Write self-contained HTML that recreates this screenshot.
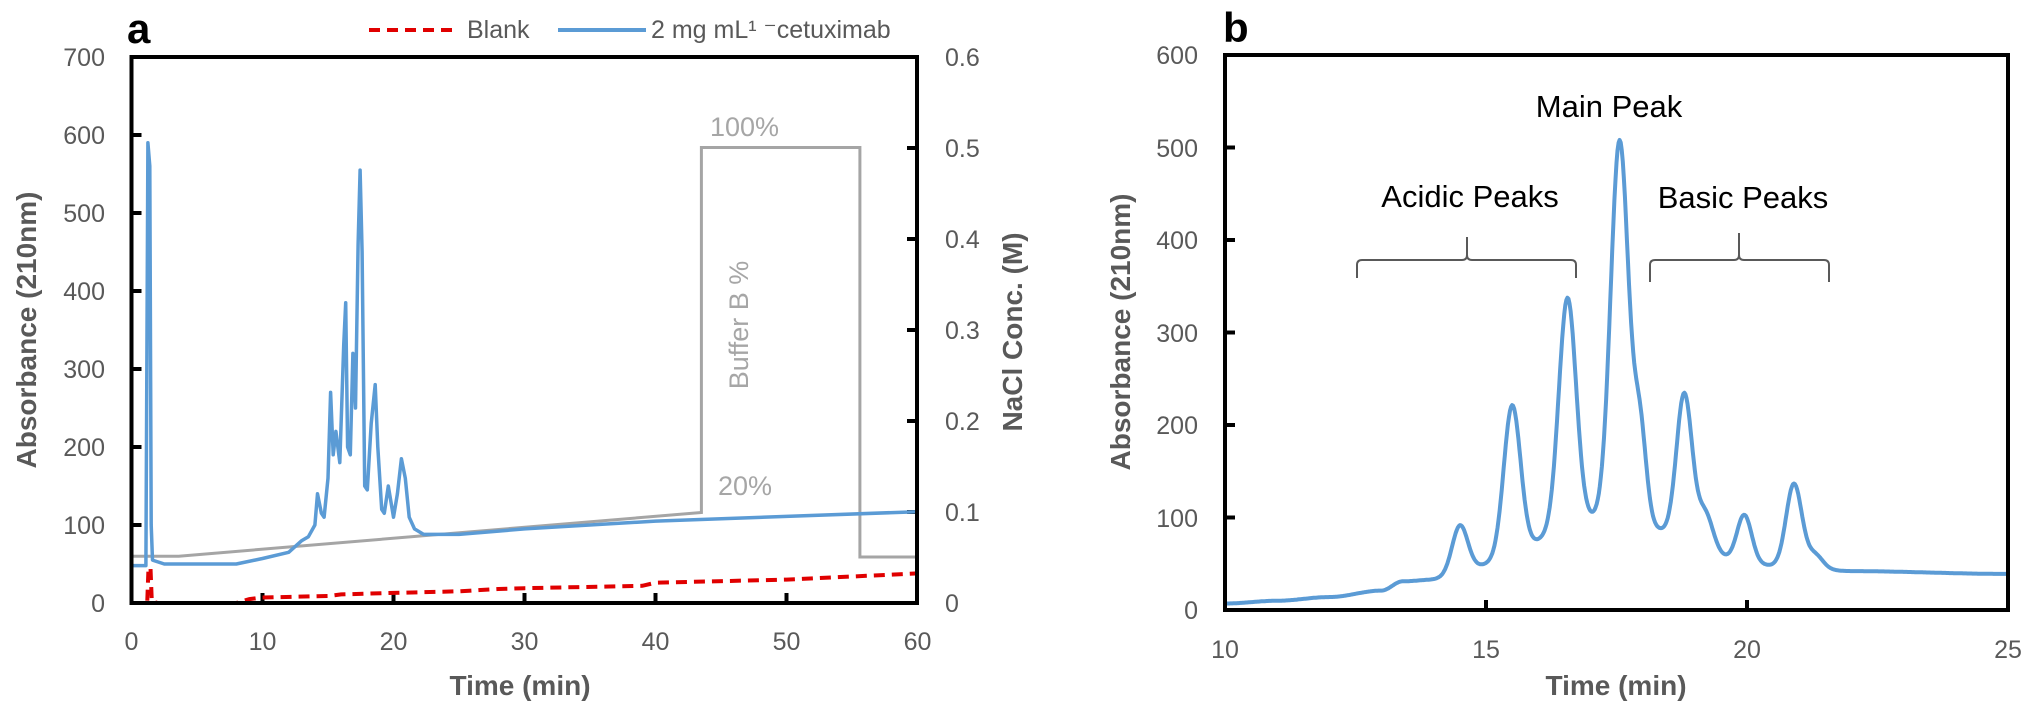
<!DOCTYPE html>
<html><head><meta charset="utf-8"><style>
html,body{margin:0;padding:0;background:#fff;}
svg{display:block;}
text{font-family:"Liberation Sans",Arial,sans-serif;}
</style></head><body>
<svg id="s" width="2032" height="711" viewBox="0 0 2032 711" xmlns="http://www.w3.org/2000/svg">
<rect width="2032" height="711" fill="#fff"/>
<!-- Panel a -->
<g id="pa"></g>
<rect x="131.5" y="57" width="785.5" height="546" fill="none" stroke="#000" stroke-width="4"/>
<g fill="#595959" font-size="25" text-anchor="end">
<text x="105" y="66">700</text><text x="105" y="144">600</text><text x="105" y="222">500</text>
<text x="105" y="300">400</text><text x="105" y="378">300</text><text x="105" y="456">200</text>
<text x="105" y="534">100</text><text x="105" y="612">0</text>
</g>
<g fill="#595959" font-size="25" text-anchor="start">
<text x="945" y="66">0.6</text><text x="945" y="157">0.5</text><text x="945" y="248">0.4</text>
<text x="945" y="339">0.3</text><text x="945" y="430">0.2</text><text x="945" y="521">0.1</text>
<text x="945" y="612">0</text>
</g>
<g fill="#595959" font-size="25" text-anchor="middle">
<text x="131.5" y="650">0</text><text x="262.5" y="650">10</text><text x="393.5" y="650">20</text>
<text x="524.5" y="650">30</text><text x="655.5" y="650">40</text><text x="786.5" y="650">50</text>
<text x="917.5" y="650">60</text>
</g>
<text x="520" y="695" fill="#595959" font-size="28" font-weight="bold" text-anchor="middle">Time (min)</text>
<text transform="translate(36,330) rotate(-90)" fill="#595959" font-size="28" font-weight="bold" text-anchor="middle">Absorbance (210nm)</text>
<text transform="translate(1022,332) rotate(-90)" fill="#595959" font-size="28" font-weight="bold" text-anchor="middle">NaCl Conc. (M)</text>
<text x="127" y="43" font-size="42" font-weight="bold" fill="#000">a</text>
<line x1="369" y1="30" x2="459" y2="30" stroke="#E00000" stroke-width="4" stroke-dasharray="11,7"/>
<text x="467" y="38" fill="#595959" font-size="25">Blank</text>
<line x1="558" y1="30" x2="646" y2="30" stroke="#5B9BD5" stroke-width="4"/>
<text x="651" y="38" fill="#595959" font-size="25">2 mg mL¹ ⁻cetuximab</text>
<text x="710" y="136" fill="#A6A6A6" font-size="27">100%</text>
<text x="718" y="495" fill="#A6A6A6" font-size="27">20%</text>
<text transform="translate(748,325) rotate(-90)" fill="#A6A6A6" font-size="27" text-anchor="middle">Buffer B %</text>

<!-- Panel b -->
<g id="pb"></g>
<rect x="1225" y="55" width="783" height="555" fill="none" stroke="#000" stroke-width="4"/>
<g fill="#595959" font-size="25" text-anchor="end">
<text x="1198" y="64">600</text><text x="1198" y="157">500</text><text x="1198" y="249">400</text>
<text x="1198" y="342">300</text><text x="1198" y="434">200</text><text x="1198" y="527">100</text>
<text x="1198" y="619">0</text>
</g>
<g fill="#595959" font-size="25" text-anchor="middle">
<text x="1225" y="658">10</text><text x="1486" y="658">15</text><text x="1747" y="658">20</text><text x="2008" y="658">25</text>
</g>
<text x="1616" y="695" fill="#595959" font-size="28" font-weight="bold" text-anchor="middle">Time (min)</text>
<text transform="translate(1130,332) rotate(-90)" fill="#595959" font-size="28" font-weight="bold" text-anchor="middle">Absorbance (210nm)</text>
<text x="1223" y="42" font-size="42" font-weight="bold" fill="#000">b</text>
<text x="1609" y="117" font-size="31" fill="#000" text-anchor="middle">Main Peak</text>
<text x="1470" y="207" font-size="31" fill="#000" text-anchor="middle">Acidic Peaks</text>
<text x="1743" y="208" font-size="31" fill="#000" text-anchor="middle">Basic Peaks</text>
<path d="M1357,278 L1357,265 Q1357,260 1362,260 L1462,260 Q1467,260 1467,255 L1467,237 M1467,255 Q1467,260 1472,260 L1571,260 Q1576,260 1576,265 L1576,278" fill="none" stroke="#595959" stroke-width="2"/>
<path d="M1650,282 L1650,265 Q1650,260 1655,260 L1734,260 Q1739,260 1739,255 L1739,233 M1739,255 Q1739,260 1744,260 L1824,260 Q1829,260 1829,265 L1829,282" fill="none" stroke="#595959" stroke-width="2"/>
</svg>
<script>
(function(){
var NS="http://www.w3.org/2000/svg";
function el(parent,tag,attrs){var e=document.createElementNS(NS,tag);for(var k in attrs)e.setAttribute(k,attrs[k]);parent.appendChild(e);return e;}
var pa=document.getElementById('pa'), pb=document.getElementById('pb');
function XA(t){return 131.5+t*13.1;}
function YA(a){return 603-a*0.78;}
var d="";
for(var v=100;v<=600;v+=100){d+="M131.5,"+YA(v)+" h10 ";}
for(var t=10;t<=50;t+=10){d+="M"+XA(t)+",603 v-10 ";}
for(var m=0.1;m<0.55;m+=0.1){var y=603-m*910;d+="M917,"+y+" h-10 ";}
el(pa,'path',{d:d,stroke:'#000','stroke-width':4,fill:'none'});
function poly(pts,X,Y){return pts.map(function(p,i){return (i?"L":"M")+X(p[0]).toFixed(1)+","+Y(p[1]).toFixed(1);}).join(" ");}
var gray=[[0,60],[3.6,60],[43.5,116],[43.5,584],[55.6,584],[55.6,59],[60,59]];
el(pa,'path',{d:poly(gray,XA,YA),stroke:'#A5A5A5','stroke-width':3,fill:'none'});
var blue=[[0,48],[1.1,48],[1.25,590],[1.4,560],[1.5,100],[1.6,55],[2.5,50],[8,50],[10,57],[12,65],[13,80],[13.5,85],[14,100],[14.2,140],[14.5,115],[14.7,110],[15,160],[15.2,270],[15.4,190],[15.6,220],[15.9,180],[16.2,330],[16.35,385],[16.5,200],[16.7,190],[16.9,320],[17.1,250],[17.3,460],[17.45,555],[17.6,450],[17.8,150],[18,145],[18.3,230],[18.6,280],[18.8,200],[19.1,120],[19.3,115],[19.6,150],[19.8,130],[20,110],[20.3,140],[20.6,185],[20.9,160],[21.2,110],[21.6,95],[22.3,88],[25,88],[30,95],[40,105],[50,111],[60,117]];
el(pa,'path',{d:poly(blue,XA,YA),stroke:'#5B9BD5','stroke-width':3.5,fill:'none','stroke-linejoin':'round'});
var red=[[0,0],[1.2,0],[1.3,45],[1.45,45],[1.55,2],[2,0],[8,0],[9,5],[10,7],[15,9],[16,11],[20,13],[25,15],[28,18],[30,19],[39,22],[40,26],[50,30],[60,38]];
el(pa,'path',{d:poly(red,XA,YA),stroke:'#E00000','stroke-width':4,fill:'none','stroke-dasharray':'11,7'});
function XB(t){return 1225+(t-10)*52.2;}
function YB(a){return 610-a*0.925;}
var d2="";
for(var v=100;v<=500;v+=100){d2+="M1225,"+YB(v)+" h10 ";}
for(var t=15;t<=20;t+=5){d2+="M"+XB(t)+",610 v-10 ";}
el(pb,'path',{d:d2,stroke:'#000','stroke-width':4,fill:'none'});
var bp=[[10,7],[11,10],[12,14],[13,21],[13.4,31],[13.9,32],[15,37],[17,40],[19,44],[21,45],[22,42],[25,39]];
function base(t){
 for(var i=0;i<bp.length-1;i++){if(t>=bp[i][0]&&t<=bp[i+1][0]){var f=(t-bp[i][0])/(bp[i+1][0]-bp[i][0]);f=f*f*(3-2*f);return bp[i][1]+f*(bp[i+1][1]-bp[i][1]);}}
 return bp[bp.length-1][1];
}
var G=[[14.5,51,0.15],[15.5,161,0.16],[16.56,247,0.165],[17.56,408,0.17],[17.95,100,0.12],[18.8,159,0.15],[19.2,40,0.15],[19.95,51,0.14],[20.9,90,0.15],[21.3,15,0.15]];
function f(t){
 var s=base(t);
 var bt=(t-17.3)/1.3; if(t>13.5) s+=60*Math.exp(-bt*bt/2)*Math.min(1,(t-13.5)/1.0);
 for(var i=0;i<G.length;i++){var z=(t-G[i][0])/G[i][2];s+=G[i][1]*Math.exp(-z*z/2);}
 return s;
}
var pts=[];for(var t=10;t<=25.0001;t+=0.02){pts.push([t,f(t)]);}
el(pb,'path',{d:poly(pts,XB,YB),stroke:'#5B9BD5','stroke-width':4,fill:'none','stroke-linejoin':'round'});
})();
</script>
</body></html>
